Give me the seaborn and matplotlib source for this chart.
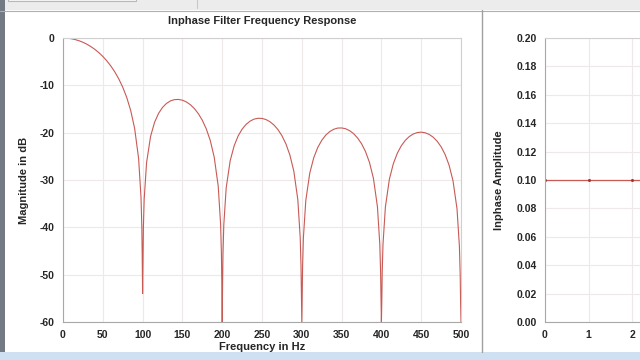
import matplotlib
matplotlib.use("Agg")
import matplotlib.pyplot as plt
from matplotlib.patches import Rectangle
from matplotlib.lines import Line2D
import seaborn as sns
import pandas as pd

# ---- data ----
freq_hz = [0, 5, 10, 15, 20, 25, 30, 35, 40, 45, 50, 55, 60, 65, 70, 75, 80, 85, 90, 95,
           98, 99, 99.5, 100, 100.5, 101, 102,
           105, 110, 115, 120, 125, 130, 135, 140, 145, 150, 155, 160, 165, 170, 175, 180, 185, 190, 195,
           198, 199, 199.5, 200, 200.5, 201, 202,
           205, 210, 215, 220, 225, 230, 235, 240, 245, 250, 255, 260, 265, 270, 275, 280, 285, 290, 295,
           298, 299, 299.5, 300, 300.5, 301, 302,
           305, 310, 315, 320, 325, 330, 335, 340, 345, 350, 355, 360, 365, 370, 375, 380, 385, 390, 395,
           398, 399, 399.5, 400, 400.5, 401, 402,
           405, 410, 415, 420, 425, 430, 435, 440, 445, 450, 455, 460, 465, 470, 475, 480, 485, 490, 495,
           498, 499, 499.5, 500]
magnitude_db = [0.0, -0.04, -0.14, -0.32, -0.57, -0.90, -1.31, -1.81, -2.40, -3.09, -3.89, -4.82, -5.89, -7.14, -8.62, -10.37, -12.53, -15.29, -19.11, -25.48,
                -33.67, -39.77, -45.84, -54.0, -45.92, -39.94, -34.01,
                -26.32, -20.80, -17.83, -15.94, -14.67, -13.82, -13.29, -13.02, -12.98, -13.14, -13.51, -14.09, -14.90, -15.98, -17.37, -19.20, -21.65, -25.20, -31.31,
                -39.35, -45.41, -51.44, -60.0, -51.48, -45.48, -39.50,
                -31.68, -25.95, -22.78, -20.70, -19.26, -18.25, -17.56, -17.14, -16.96, -16.99, -17.23, -17.69, -18.38, -19.34, -20.63, -22.35, -24.71, -28.15, -34.17,
                -42.16, -48.20, -54.23, -60.0, -54.25, -48.24, -42.24,
                -34.37, -28.55, -25.30, -23.15, -21.63, -20.54, -19.78, -19.29, -19.03, -19.00, -19.17, -19.57, -20.20, -21.10, -22.32, -23.98, -26.28, -29.67, -35.63,
                -43.59, -49.61, -55.64, -60.0, -55.65, -49.63, -43.62,
                -35.72, -29.85, -26.55, -24.34, -22.77, -21.63, -20.82, -20.28, -19.98, -19.89, -20.02, -20.37, -20.95, -21.80, -22.98, -24.60, -26.85, -30.20, -36.11,
                -44.04, -50.06, -56.08, -60.0]

tap_index = [0, 1, 2, 3, 4, 5, 6, 7, 8, 9]
tap_amplitude = [0.10, 0.10, 0.10, 0.10, 0.10, 0.10, 0.10, 0.10, 0.10, 0.10]

freq_ticks = [0, 50, 100, 150, 200, 250, 300, 350, 400, 450, 500]
db_ticks = [0, -10, -20, -30, -40, -50, -60]
amp_ticks = [0.00, 0.02, 0.04, 0.06, 0.08, 0.10, 0.12, 0.14, 0.16, 0.18, 0.20]
tap_ticks_visible = [0, 1, 2]

# ---- styling ----
sns.set_style("white")
plt.rcParams['font.family'] = ['Liberation Sans', 'DejaVu Sans']

W, H = 640, 360
fig = plt.figure(figsize=(6.4, 3.6), dpi=100)
fig.patch.set_facecolor("white")

def px_rect(x0, y0, x1, y1, **kw):
    fig.add_artist(Rectangle((x0 / W, 1 - y1 / H), (x1 - x0) / W, (y1 - y0) / H,
                             transform=fig.transFigure, **kw))

def px_line(xs, ys, **kw):
    fig.add_artist(Line2D([x / W for x in xs], [1 - y / H for y in ys],
                          transform=fig.transFigure, **kw))

# window frame
px_rect(0, 0, 640, 10, facecolor="#ececec", edgecolor="none")
px_rect(8, -2, 136, 1, facecolor="#f6f6f6", edgecolor="#b8b8b8", linewidth=0.8)
px_line([197, 197], [0, 8], color="#c8c8c8", linewidth=0.8)
px_line([0, 640], [10.5, 10.5], color="#b0b0b0", linewidth=0.8)
px_rect(0, 0, 5, 360, facecolor="#737a84", edgecolor="none")
px_rect(0, 352, 640, 360, facecolor="#cfe0f2", edgecolor="none")
px_line([482, 482], [10, 352], color="#a0a0a0", linewidth=1.0)

GRID = "#eee8e8"
SPINE = "#a8a8a8"
CURVE = "#c85a55"

# ---- left panel ----
ax1 = fig.add_axes([63 / W, 1 - 322 / H, 398 / W, 284 / H])
df1 = pd.DataFrame({"f": freq_hz, "db": magnitude_db})
sns.lineplot(data=df1, x="f", y="db", ax=ax1, color=CURVE, linewidth=0.8, sort=False)
ax1.set_xlim(0, 500)
ax1.set_ylim(-60, 0)
ax1.set_xticks(freq_ticks)
ax1.set_yticks(db_ticks)
ax1.set_xticklabels([str(t) for t in freq_ticks], fontsize=7.5, fontweight="bold")
ax1.set_yticklabels([str(t) for t in db_ticks], fontsize=7.5, fontweight="bold")
ax1.grid(True, color=GRID, linewidth=0.8)
ax1.set_axisbelow(True)
for s in ax1.spines.values():
    s.set_color("#d0d0d0")
    s.set_linewidth(0.8)
ax1.spines["left"].set_color(SPINE)
ax1.spines["bottom"].set_color(SPINE)
ax1.tick_params(axis="both", direction="out", length=4, width=0.8, color=SPINE, pad=2)
ax1.set_xlabel("Frequency in Hz", fontsize=8, fontweight="bold", labelpad=1)
ax1.set_ylabel("Magnitude in dB", fontsize=8, fontweight="bold", labelpad=8)
ax1.set_title("Inphase Filter Frequency Response", fontsize=8, fontweight="bold", pad=10)

# ---- right panel (cut off by the screenshot edge) ----
ax2 = fig.add_axes([545 / W, 1 - 322 / H, 392 / W, 284 / H])
df2 = pd.DataFrame({"n": tap_index, "a": tap_amplitude})
sns.lineplot(data=df2, x="n", y="a", ax=ax2, color=CURVE, linewidth=0.9,
             marker="o", markersize=2.2, markeredgewidth=0, markerfacecolor="#b03030")
ax2.set_xlim(0, 9)
ax2.set_ylim(0, 0.20)
ax2.set_xticks(tap_ticks_visible)
ax2.set_yticks(amp_ticks)
ax2.set_xticklabels([str(t) for t in tap_ticks_visible], fontsize=7.5, fontweight="bold")
ax2.set_yticklabels([f"{t:.2f}" for t in amp_ticks], fontsize=7.5, fontweight="bold")
ax2.grid(True, color=GRID, linewidth=0.8)
ax2.set_axisbelow(True)
for s in ax2.spines.values():
    s.set_color("#d0d0d0")
    s.set_linewidth(0.8)
ax2.spines["left"].set_color(SPINE)
ax2.spines["bottom"].set_color(SPINE)
ax2.tick_params(axis="both", direction="out", length=4, width=0.8, color=SPINE, pad=2)
ax2.set_xlabel("")
ax2.set_ylabel("Inphase Amplitude", fontsize=8, fontweight="bold", labelpad=9)

fig.savefig("out.png", dpi=100)
